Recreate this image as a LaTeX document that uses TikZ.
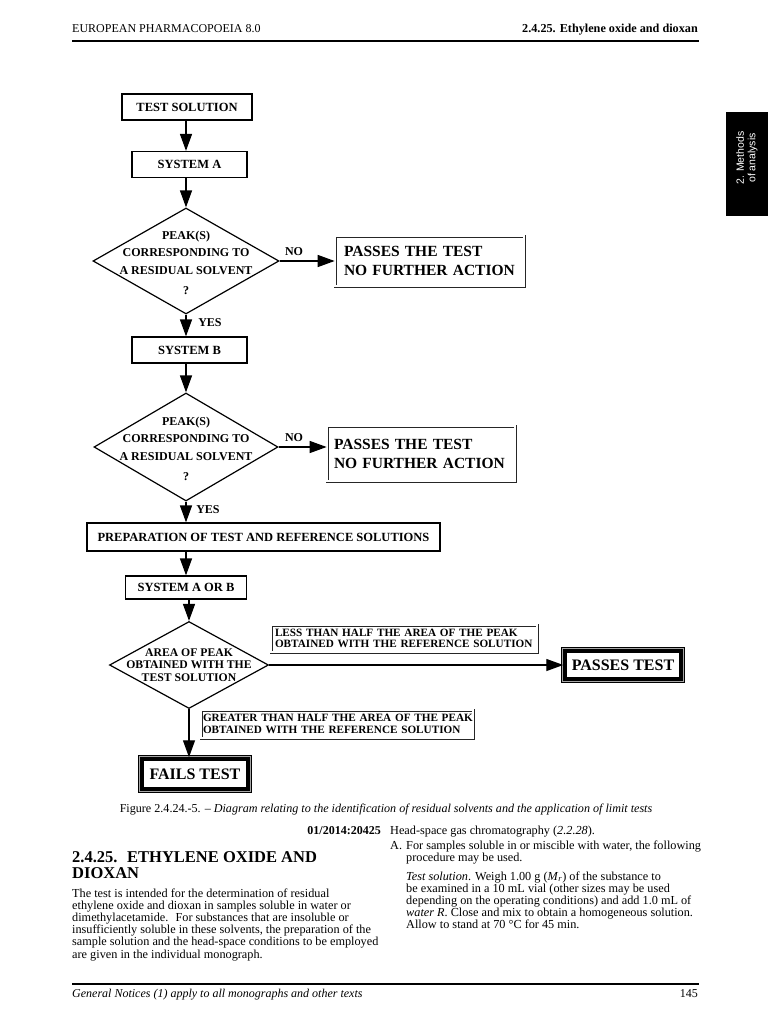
\documentclass[tikz,border=0pt]{standalone}
\usepackage{fontspec}
\setmainfont{Liberation Serif}
\newfontfamily\tabfont{Liberation Sans}
\usetikzlibrary{positioning, arrows.meta, shapes.geometric}

\newcommand{\fsz}[2]{\fontsize{#1}{#2}\selectfont}

\begin{document}
\begin{tikzpicture}[
    x=1pt, y=-1pt,
    >={Triangle[length=17pt, width=12pt]},
    box/.style={rectangle, draw=black, line width=1.2pt, fill=white, inner sep=0pt,
                align=center, font=\fsz{12.5}{14}\bfseries},
    dbox/.style={rectangle, draw=black!85, line width=0.7pt, double=white, double distance=1.6pt,
                 inner ysep=0pt, align=left},
    heavybox/.style={rectangle, draw=black, line width=3.5pt, fill=white, inner sep=0pt,
                     preaction={draw=black, line width=8pt},
                     preaction={draw=black!35, line width=6pt},
                     align=center, font=\fsz{16}{17}\bfseries},
    dia/.style={diamond, draw=black, line width=1.2pt, inner sep=0pt},
    diatext/.style={align=center, font=\fsz{12}{17.5}\bfseries},
    lbl/.style={font=\fsz{12}{13}\bfseries, inner sep=0pt},
    arr/.style={->, line width=1.3pt},
    body/.style={anchor=base west, inner sep=0pt, align=left, font=\fsz{12.25}{12.2}},
  ]
  \useasboundingbox[fill=white] (0,0) rectangle (768,1024);

  % running head
  \node[anchor=base west, inner sep=0pt, font=\fsz{12}{13}] (headl) at (72,33) {EUROPEAN PHARMACOPOEIA 8.0};
  \node[anchor=base east, inner sep=0pt, font=\fsz{12.2}{13}\bfseries] (headr) at (698,33) {2.4.25. Ethylene oxide and dioxan};
  \draw[line width=2pt] (72,41) -- (699,41);

  % chapter tab
  \fill[black] (726,112) rectangle (768,216);
  \node[rotate=90, text=white, align=center, font=\tabfont\fsz{10.5}{11.5}] (tab) at (747,158) {2. Methods\\of analysis};

  % flow chart
  \node[box, minimum width=130, minimum height=26] (test) at (187,107) {TEST SOLUTION};
  \node[box, minimum width=115, minimum height=26] (sysa) at (189.5,164.5) {SYSTEM A};
  \node[dia, minimum width=186, minimum height=106] (q1) at (186,261) {};
  \node[diatext] (q1txt) at ([yshift=-2pt]q1.center) {PEAK(S)\\CORRESPONDING TO\\A RESIDUAL SOLVENT\\[3pt]?};
  \node[dbox, minimum height=50, inner xsep=9pt, text width=171pt, font=\fsz{15.5}{19}\bfseries] (pass1) at (429.5,261)
    {PASSES~THE~TEST\\NO~FURTHER~ACTION};
  \node[box, minimum width=115, minimum height=26] (sysb) at (189.5,350) {SYSTEM B};
  \node[dia, minimum width=184, minimum height=108] (q2) at (186,447) {};
  \node[diatext] (q2txt) at ([yshift=-2pt]q2.center) {PEAK(S)\\CORRESPONDING TO\\A RESIDUAL SOLVENT\\[3pt]?};
  \node[dbox, minimum height=55, inner xsep=7pt, text width=174pt, font=\fsz{15.5}{19}\bfseries] (pass2) at (421,453.5)
    {PASSES~THE~TEST\\NO~FURTHER~ACTION};
  \node[box, minimum width=353, minimum height=28] (prep) at (263.5,537) {PREPARATION OF TEST AND REFERENCE SOLUTIONS};
  \node[box, minimum width=121, minimum height=23] (sysab) at (186,587.5) {SYSTEM A OR B};
  \node[dia, minimum width=159, minimum height=87] (q3) at (189,665) {};
  \node[diatext, font=\fsz{11.7}{12.5}\bfseries] (q3txt) at (q3.center) {AREA OF PEAK\\OBTAINED WITH THE\\TEST SOLUTION};
  \node[dbox, minimum height=27, inner xsep=4pt, text width=258pt, font=\fsz{11.2}{11.5}\bfseries] (less) at (404,638.5)
    {LESS~THAN~HALF~THE~AREA~OF~THE~PEAK\\OBTAINED~WITH~THE~REFERENCE~SOLUTION};
  \node[heavybox, minimum width=116, minimum height=28] (passt) at (623,665) {PASSES TEST};
  \node[dbox, minimum height=28, inner xsep=2pt, text width=268pt, font=\fsz{11.2}{11.5}\bfseries] (greater) at (337,724)
    {GREATER~THAN~HALF~THE~AREA~OF~THE~PEAK\\OBTAINED~WITH~THE~REFERENCE~SOLUTION};
  \node[heavybox, minimum width=106, minimum height=30] (fails) at (195,774) {FAILS TEST};

  \node[lbl] (no1) at (294,252) {NO};
  \node[lbl] (no2) at (294,438) {NO};
  \node[lbl] (yes1) at (210,323) {YES};
  \node[lbl] (yes2) at (208,510) {YES};

  \draw[arr] (test.south -| q1.north) -- (sysa.north -| q1.north);
  \draw[arr] (sysa.south -| q1.north) -- (q1.north);
  \draw[arr] (q1.east) -- (pass1.west |- q1.east);
  \draw[arr] (q1.south) -- (sysb.north -| q1.south);
  \draw[arr] (sysb.south -| q2.north) -- (q2.north);
  \draw[arr] (q2.east) -- (pass2.west |- q2.east);
  \draw[arr] (q2.south) -- (prep.north -| q2.south);
  \draw[arr] (prep.south -| sysab.north) -- (sysab.north);
  \draw[arr] (sysab.south) -- (sysab.south -| q3.north) -- (q3.north);
  \draw[arr] (q3.east) -- (passt.west);
  \draw[arr] (q3.south) -- (fails.north -| q3.south);

  % caption and text (multi-line nodes sit on their last baseline)
  \node[anchor=base, inner sep=0pt, font=\fsz{12.1}{13}] (caption) at (386,812)
    {Figure 2.4.24.-5. – \textit{Diagram relating to the identification of residual solvents and the application of limit tests}};
  \node[anchor=base east, inner sep=0pt, font=\fsz{12}{13}\bfseries] (ref) at (381,834) {01/2014:20425};
  \node[body] (method) at (390,834) {Head-space gas chromatography (\textit{2.2.28}).};
  \node[body] (itema) at (390,849) {A.};
  \node[body] (itematxt) at (406,861.2) {For samples soluble in or miscible with water, the following\\procedure may be used.};
  \node[body] (testsol) at (406,928.8)
    {\textit{Test solution}. Weigh 1.00 g (\textit{M}\textsubscript{\textit{r}}) of the substance to\\
     be examined in a 10 mL vial (other sizes may be used\\
     depending on the operating conditions) and add 1.0 mL of\\
     \textit{water R}. Close and mix to obtain a homogeneous solution.\\
     Allow to stand at 70 °C for 45 min.};
  \node[body, font=\fsz{16.5}{16.5}\bfseries] (title) at (72,878.5) {2.4.25. \ ETHYLENE OXIDE AND\\DIOXAN};
  \node[body] (intro) at (72,958)
    {The test is intended for the determination of residual\\
     ethylene oxide and dioxan in samples soluble in water or\\
     dimethylacetamide. \ For substances that are insoluble or\\
     insufficiently soluble in these solvents, the preparation of the\\
     sample solution and the head-space conditions to be employed\\
     are given in the individual monograph.};

  % running foot
  \draw[line width=1.3pt] (72,984) -- (699,984);
  \node[anchor=base west, inner sep=0pt, font=\fsz{12}{13}\itshape] (footl) at (72,997) {General Notices (1) apply to all monographs and other texts};
  \node[anchor=base east, inner sep=0pt, font=\fsz{12}{13}] (footr) at (698,997) {145};
\end{tikzpicture}
\end{document}
